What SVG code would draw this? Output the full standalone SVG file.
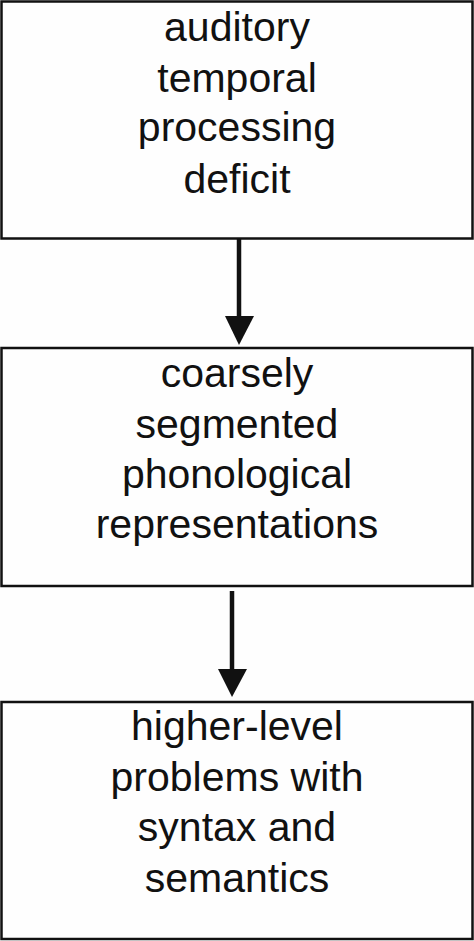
<svg xmlns="http://www.w3.org/2000/svg" width="474" height="941" viewBox="0 0 474 941">
<defs>
<style>
.box{fill:#fefefe;stroke:#111;stroke-width:2.5}
.lbl{font-family:"Liberation Sans",Arial,sans-serif;font-size:41px;fill:#111;text-anchor:middle}
.conn{stroke:#111;stroke-width:4.5;fill:none}
.head{fill:#111}
</style>
</defs>
<rect width="474" height="941" fill="#fefefe"/>
<g id="node1">
<rect class="box" x="1.5" y="1.5" width="471" height="237"/>
<text class="lbl" x="237" y="41">auditory</text>
<text class="lbl" x="237" y="92">temporal</text>
<text class="lbl" x="237" y="141">processing</text>
<text class="lbl" x="237" y="193">deficit</text>
</g>
<g id="node2">
<rect class="box" x="1.5" y="348" width="471" height="238"/>
<text class="lbl" x="237" y="387">coarsely</text>
<text class="lbl" x="237" y="438">segmented</text>
<text class="lbl" x="237" y="488">phonological</text>
<text class="lbl" x="237" y="538">representations</text>
</g>
<g id="node3">
<rect class="box" x="1.5" y="702" width="471" height="237"/>
<text class="lbl" x="237" y="740">higher-level</text>
<text class="lbl" x="237" y="791">problems with</text>
<text class="lbl" x="237" y="841">syntax and</text>
<text class="lbl" x="237" y="892">semantics</text>
</g>
<g id="connectors">
<line class="conn" x1="239" y1="239" x2="239" y2="318"/>
<polygon class="head" points="225,316 254,316 239,345"/>
<line class="conn" x1="232" y1="591" x2="232" y2="671"/>
<polygon class="head" points="218,669 247,669 232,697"/>
</g>
</svg>
